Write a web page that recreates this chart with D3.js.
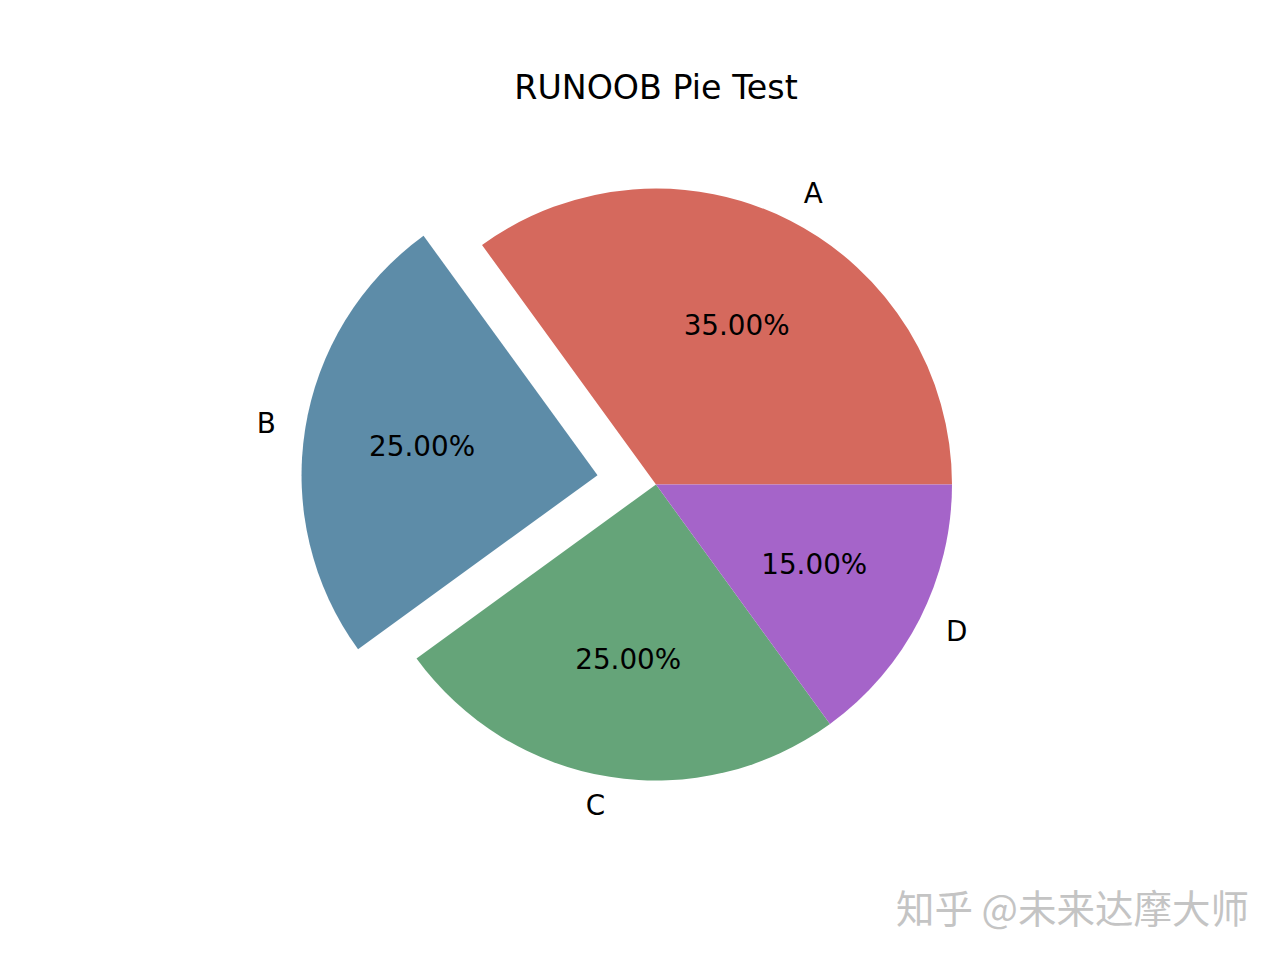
<!DOCTYPE html>
<html>
<head>
<meta charset="utf-8">
<script src="https://cdn.jsdelivr.net/npm/d3@7"></script>
<style>
  html, body { margin: 0; padding: 0; background: #fff; }
  svg { display: block; }
</style>
</head>
<body>
<svg id="chart" width="1280" height="960"></svg>
<script>
const categories = ["A", "B", "C", "D"];
const values = [35, 25, 25, 15];
const explodeFactors = [0, 0.2, 0, 0];
const colors = ["#d5695d", "#5d8ca8", "#65a479", "#a564c9"];
const titleText = "RUNOOB Pie Test";
const watermark = "知乎 @未来达摩大师";

const W = 1280, H = 960;
const cx = 656, cy = 484.5, R = 296;
const svg = d3.select("#chart");
svg.append("rect").attr("width", W).attr("height", H).attr("fill", "#fff");

const data = categories.map((c, i) => ({ label: c, value: values[i], explode: explodeFactors[i], color: colors[i] }));

// matplotlib: start at 3 o'clock, counterclockwise
const pie = d3.pie().value(d => d.value).sort(null)
  .startAngle(Math.PI / 2).endAngle(Math.PI / 2 - 2 * Math.PI);
const arcs = pie(data);
const arc = d3.arc().innerRadius(0).outerRadius(R);
const pos = (a, r) => [r * Math.sin(a), -r * Math.cos(a)];

const font = "'DejaVu Sans', sans-serif";
const g = svg.append("g").attr("transform", `translate(${cx},${cy})`);
const total = d3.sum(values);

arcs.forEach(a => {
  const mid = (a.startAngle + a.endAngle) / 2;
  const [ox, oy] = pos(mid, a.data.explode * R);
  const wg = g.append("g").attr("transform", `translate(${ox},${oy})`);
  wg.append("path").attr("d", arc(a)).attr("fill", a.data.color);
  const [lx, ly] = pos(mid, 1.1 * R);
  wg.append("text")
    .attr("x", lx).attr("y", ly)
    .attr("dy", "0.32em")
    .attr("text-anchor", lx > 0 ? "start" : "end")
    .attr("font-family", font).attr("font-size", 27.8)
    .attr("fill", "#000")
    .text(a.data.label);
  const [px, py] = pos(mid, 0.6 * R);
  wg.append("text")
    .attr("x", px).attr("y", py)
    .attr("dy", "0.32em")
    .attr("text-anchor", "middle")
    .attr("font-family", font).attr("font-size", 27.8)
    .attr("fill", "#000")
    .text((a.data.value / total * 100).toFixed(2) + "%");
});

svg.append("text")
  .attr("x", cx).attr("y", 98.5)
  .attr("text-anchor", "middle")
  .attr("font-family", font).attr("font-size", 33.3)
  .attr("fill", "#000")
  .text(titleText);

// watermark
const wm = svg.append("g");
wm.append("text")
  .attr("x", 1249).attr("y", 923)
  .attr("text-anchor", "end")
  .attr("font-family", "'Noto Sans CJK SC', sans-serif").attr("font-size", 38.5)
  .attr("fill", "#ffffff")
  .attr("transform", "translate(1.5,1.5)")
  .text(watermark);
wm.append("text")
  .attr("x", 1249).attr("y", 923)
  .attr("text-anchor", "end")
  .attr("font-family", "'Noto Sans CJK SC', sans-serif").attr("font-size", 38.5)
  .attr("fill", "#c4c4c4")
  .text(watermark);
</script>
</body>
</html>
